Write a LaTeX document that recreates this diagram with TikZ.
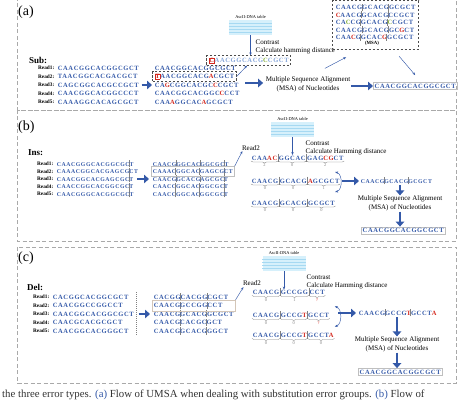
\documentclass[tikz,border=0pt]{standalone}
\usepackage{fontspec}
\setmainfont{Liberation Serif}
\newfontfamily\seqfont[LetterSpace=10]{Liberation Serif}
\usepackage{xcolor}
\usetikzlibrary{positioning,arrows.meta,fit,calc,decorations.pathreplacing}
\definecolor{dnablue}{HTML}{3459A8}
\definecolor{lightdna}{HTML}{86A6DA}
\definecolor{errred}{HTML}{D3281E}
\definecolor{okgreen}{HTML}{86B23E}
\definecolor{tabcyan}{HTML}{D6F0FB}
\definecolor{tabline}{HTML}{A6D9F2}
\definecolor{framegray}{HTML}{A9A9A9}
\newcommand{\dnared}[1]{\textcolor{errred}{#1}}
\newcommand{\dnagreen}[1]{\textcolor{okgreen}{#1}}
\newcommand{\dnabox}[1]{{\color{errred}\setlength{\fboxsep}{0.2pt}\setlength{\fboxrule}{0.4pt}\fbox{#1}}}
\newcommand{\dnatick}{\rlap{\kern-0.6pt\textcolor{gray}{\vrule height 5.6pt depth 1.4pt width 0.25pt}}}

\begin{document}
\begin{tikzpicture}[x=1pt,y=-1pt,
  seq/.style={font=\seqfont\bfseries\fontsize{6.5}{7}\selectfont, text=dnablue, inner sep=0.6pt, anchor=west},
  seqs/.style={seq, font=\seqfont\bfseries\fontsize{5.8}{6}\selectfont},
  rd/.style={font=\bfseries\fontsize{5.3}{6}\selectfont, anchor=east, inner sep=0.5pt},
  hd/.style={font=\bfseries\fontsize{9}{10}\selectfont, anchor=west, inner sep=0pt},
  pnl/.style={font=\fontsize{14}{15}\selectfont, anchor=west, inner sep=0pt},
  txt/.style={font=\fontsize{7}{8.5}\selectfont, align=center, inner sep=0.5pt},
  tabl/.style={fill=tabcyan, minimum width=43pt, minimum height=15pt, inner sep=0pt},
  tabt/.style={font=\fontsize{4.4}{5}\selectfont, inner sep=0.5pt},
  frm/.style={draw=framegray, dash pattern=on 4pt off 2.5pt, line width=0.6pt},
  big/.style={-{Triangle[length=5pt,width=8.5pt]}, line width=2.6pt, draw=dnablue},
  arr/.style={-{Stealth[length=3pt,width=2.4pt]}, line width=0.45pt, draw=dnablue},
  rbox/.style={draw=gray!50, line width=0.4pt, inner sep=1.5pt},
  dbox/.style={draw=gray!60!black, dash pattern=on 2.5pt off 1.5pt, line width=0.7pt, inner sep=1.2pt},
  br/.style={decorate, decoration={brace, mirror, amplitude=2pt}, draw=gray, line width=0.35pt},
  num/.style={font=\fontsize{4.4}{5}\selectfont, text=gray, inner sep=0.3pt, below=2.5pt},
  tk/.style={draw=gray, line width=0.3pt},
]
\useasboundingbox (0,0) rectangle (474,403);
\clip (0,0) rectangle (474,403);

% --- panel frames ---
\draw[frm] (17,-3) rectangle (456,110);
\draw[frm] (17,110) rectangle (456,241);
\draw[frm] (17,247) rectangle (456,383);

% --- (a) substitution ---
\node[pnl] (pa) at (18,12) {(a)};
\node[hd] (sub) at (29,60) {Sub:};
\foreach \i/\y/\s in {1/68/CAACGGCACGGCGCT,2/76.5/TAACGGCACGACGCT,3/85/CAGCGGCACGCCGCT,4/93.5/CAACGGCACGGCCCT,5/102/CAAAGGCACAGCGCT}{
  \node[rd] (ra\i) at (55,\y) {Read\i:};
  \node[seq] (sa\i) at (57,\y) {\s};
}
\node[seq] (ca1) at (154,68)   {CAACGGCACGGCGCT};
\node[seq] (ca2) at (154,76.5) {\dnabox{T}AACGGCACG\dnared{A}CGCT};
\node[seq] (ca3) at (154,85)   {CA\dnared{G}CGGCACGC\dnared{C}CGCT};
\node[seq] (ca4) at (154,93.5) {CAACGGCACGGC\dnared{C}CCT};
\node[seq] (ca5) at (154,102)  {CAA\dnared{A}GGCAC\dnared{A}GCGCT};
\node[dbox, fit=(ca2)] (ca2b) {};
\draw[big] ($(sa3.east)+(2,0)$) -- ($(ca3.west)+(-2,0)$);

\node[seq, text=lightdna] (cra) at (208,60.5) {\dnabox{C}AACGGCACG\dnagreen{C}CGCT};
\node[dbox, fit=(cra)] (crab) {};
\draw[arr] (ca2b.east) -- ($(crab.south west)!0.48!(crab.south east)$);

\node[tabl] (tba) at (250.5,27.5) {};
\foreach \k in {1,...,4} \draw[tabline, line width=0.5pt] ($(tba.north west)+(0,3*\k)$) -- ($(tba.north east)+(0,3*\k)$);
\node[tabt, above=0.6pt of tba] (tta) {AscII-DNA table};
\draw[arr] (tba.south) -- (tba.south |- crab.north);
\node[txt, anchor=west] (cta) at (255,42.5) {Contrast};
\node[txt, anchor=west] (cla) at (255,50.5) {Calculate hamming distance};

\node[seq] (m1) at (335,7.5)  {CAACG\dnatick GCACG\dnatick GCGCT};
\node[seq] (m2) at (335,15)   {\dnared{C}AACG\dnatick GCACG\dnatick CCGCT};
\node[seq] (m3) at (335,22.5) {CA\dnagreen{C}CG\dnatick GCACG\dnatick \dnagreen{C}CGCT};
\node[seq] (m4) at (335,30)   {CAACG\dnatick GCACG\dnatick GC\dnared{G}CT};
\node[seq] (m5) at (335,37.5) {CAA\dnared{C}G\dnatick GCAC\dnared{G}\dnatick GCGCT};
\node[font=\bfseries\fontsize{4.8}{5}\selectfont, inner sep=0.5pt] (msa) at (372,43.5) {(MSA)};
\node[dbox, fit=(m1)(m5)(msa), inner sep=2.5pt] (msabox) {};

\node[txt] (msaa) at (308,84.5) {Multiple Sequence Alignment\\(MSA) of Nucleotides};
\draw[big] ($(msaa.west)+(-20,-1.5)$) -- ($(msaa.west)+(-2,-1.5)$);
\node[seq, rbox] (resa) at (373,86) {CAACGGCACGGCGCT};
\draw[big] (msaa.east |- resa) -- (resa.west);
\draw[arr] ($(msaa.north east)+(-26,-8)$) -- ($(msabox.south west)+(14,8)$);
\draw[arr] ($(msabox.south east)+(-20,7)$) -- ($(resa.north)+(0,-7)$);

% --- (b) insertion ---
\node[pnl] (pb) at (18,127) {(b)};
\node[hd] (ins) at (28,153) {Ins:};
\foreach \i/\y/\s in {1/164/CAACGGGCACGGCGC\dnatick T,2/171.5/CAAACGGCACGAGCG\dnatick CT,3/179/CAACGGCACGAGCGC\dnatick T,4/186.5/CAACCGGCACGGCGC\dnatick T,5/194/CAACGGGCACGGCGC\dnatick T}{
  \node[rd] (rb\i) at (54,\y) {Read\i:};
  \node[seqs] (sb\i) at (56,\y) {\s};
}
\node[seqs] (cb1) at (152,164)   {CAACG\dnatick GGCAC\dnatick GGCGC\dnatick T};
\node[seqs] (cb2) at (152,171.5) {CAAAC\dnatick GGCAC\dnatick GAGCG\dnatick CT};
\node[seqs] (cb3) at (152,179)   {CAACG\dnatick GCACG\dnatick AGCGC\dnatick T};
\node[seqs] (cb4) at (152,186.5) {CAACC\dnatick GGCAC\dnatick GGCGC\dnatick T};
\node[seqs] (cb5) at (152,194)   {CAACC\dnatick GGCAC\dnatick GGCGC\dnatick T};
\node[rbox, fit=(cb2), inner sep=0.8pt] (cb2b) {};
\draw[big] ($(sb3.east)+(3,0)$) -- ($(cb3.west)+(-3,0)$);
\node[txt] (rdb) at (251,148) {Read2};
\draw[arr] (cb2b.north east) -- ($(rdb.south west)+(1,0)$);

\node[tabl] (tbb) at (292.5,129.5) {};
\foreach \k in {1,...,4} \draw[tabline, line width=0.5pt] ($(tbb.north west)+(0,3*\k)$) -- ($(tbb.north east)+(0,3*\k)$);
\node[tabt, above=0.6pt of tbb] (ttb) {AscII-DNA table};
\node[txt, anchor=west] (ctb) at (305,143) {Contrast};
\node[txt, anchor=west] (clb) at (305,151.5) {Calculate Hamming distance};

\node[seq] (b11) at (251,158) {CAA\dnared{AC}};
\node[seq, right=0pt of b11] (b12) {GGCAC};
\node[seq, right=0pt of b12] (b13) {GAG\dnared{CG}CT};
\node[seq] (b21) at (251,181) {CAACG};
\node[seq, right=0pt of b21] (b22) {GCACG};
\node[seq, right=0pt of b22] (b23) {\dnared{A}GCGCT};
\node[seq] (b31) at (251,203) {CAACG};
\node[seq, right=0pt of b31] (b32) {GCACG};
\node[seq, right=0pt of b32] (b33) {GCGCT};
\draw[arr] (tbb.south) -- (tbb.south |- b11.north);
\foreach \n/\v in {b11/2,b12/0,b13/2,b21/0,b22/0,b23/1,b31/0,b32/0,b33/0}{
  \draw[br] (\n.south west) -- (\n.south east) node[num, midway] {\v};
}
\foreach \n in {b11,b12,b21,b22,b31,b32} \draw[tk] ($(\n.north east)+(0,-1.5)$) -- ($(\n.south east)+(0,1)$);
\draw[arr, {Stealth[length=3pt,width=2.4pt]}-{Stealth[length=3pt,width=2.4pt]}] ($(b23.east)+(-5,-9)$) to[bend left=75] ($(b23.east)+(-5,11)$);

\node[seqs] (bm) at (360,181) {CAACG\dnatick GCACG\dnatick GCGCT};
\draw[big] ($(bm.west)+(-18,0)$) -- ($(bm.west)+(-1,0)$);
\node[txt] (msab) at (400,203.5) {Multiple Sequence Alignment\\(MSA) of Nucleotides};
\draw[big] (bm.south -| msab) -- (msab.north);
\node[seq, rbox] (resb) at (361,230.5) {CAACGGCACGGCGCT};
\draw[big] (msab.south) -- (msab.south |- resb.north);

% --- (c) deletion ---
\node[pnl] (pc) at (18,258) {(c)};
\node[hd] (del) at (27,287) {Del:};
\foreach \i/\y/\s in {1/297/CACGGCACGGCGCT,2/305.5/CAACGGCCGGCCT,3/314/CAACGGCACGGCGCT,4/322.5/CAACGCACGCGCT,5/331/CAACGGCACGGGCT}{
  \node[rd] (rc\i) at (50,\y) {Read\i:};
  \node[seq] (sc\i) at (52,\y) {\s};
}
\draw[gray, dash pattern=on 1pt off 1pt, line width=0.4pt] ($(sc1.north -| sc3.east)+(2,-2)$) -- ($(sc5.south -| sc3.east)+(2,2)$);
\node[seq] (cc1) at (153,297)   {CACGG\dnatick CACGG\dnatick CGCT};
\node[seq] (cc2) at (153,305.5) {CAACG\dnatick GCCGG\dnatick CCT};
\node[seq] (cc3) at (153,314)   {CAACG\dnatick GCACG\dnatick GCGCT};
\node[seq] (cc4) at (153,322.5) {CAACG\dnatick CACGC\dnatick GCT};
\node[seq] (cc5) at (153,331)   {CAACG\dnatick GCACG\dnatick GGCT};
\node[rbox, draw=orange!25!gray!45, fit=(cc2)(cc2 -| cc3.east), inner sep=1pt] (cc2b) {};
\draw[big] ($(sc3.east)+(4,0)$) -- ($(cc3.west)+(-3,0)$);
\node[txt] (rdc) at (252,283) {Read2};
\draw[arr] (cc2b.north east) -- ($(rdc.south west)+(1,1)$);

\node[tabl] (tbc) at (284,263.5) {};
\foreach \k in {1,...,4} \draw[tabline, line width=0.5pt] ($(tbc.north west)+(0,3*\k)$) -- ($(tbc.north east)+(0,3*\k)$);
\node[tabt, above=0.6pt of tbc] (ttc) {AscII-DNA table};
\node[txt, anchor=west] (ctc) at (306,277) {Contrast};
\node[txt, anchor=west] (clc) at (306,285.5) {Calculate Hamming distance};

\node[seq] (c11) at (252,292.5) {CAACG};
\node[seq, right=0pt of c11] (c12) {GCCGG};
\node[seq, right=0pt of c12] (c13) {CCT};
\node[seq] (c21) at (252,315.5) {CAACG};
\node[seq, right=0pt of c21] (c22) {GCCG\dnared{T}};
\node[seq, right=0pt of c22] (c23) {GCCT};
\node[seq] (c31) at (252,335.5) {CAACG};
\node[seq, right=0pt of c31] (c32) {GCCG\dnared{T}};
\node[seq, right=0pt of c32] (c33) {GCCT\dnared{A}};
\draw[arr] (tbc.south) -- (tbc.south |- c11.north);
\foreach \n/\v in {c11/0,c12/1,c13/\dnared{?},c21/0,c22/0,c23/\dnared{?},c31/0,c32/0,c33/0}{
  \draw[br] (\n.south west) -- (\n.south east) node[num, midway] {\v};
}
\foreach \n in {c11,c12,c21,c22,c31,c32} \draw[tk] ($(\n.north east)+(0,-1.5)$) -- ($(\n.south east)+(0,1)$);
\draw[arr, {Stealth[length=3pt,width=2.4pt]}-{Stealth[length=3pt,width=2.4pt]}] ($(c23.east)+(5,-9)$) to[bend left=75] ($(c23.east)+(5,11)$);

\node[seq] (cm) at (358,313) {CAACG\dnatick GCCG\dnared{T}\dnatick GCCT\dnared{A}};
\draw[big] ($(cm.west)+(-20,0)$) -- ($(cm.west)+(-2,0)$);
\node[txt] (msac) at (397,344.5) {Multiple Sequence Alignment\\(MSA) of Nucleotides};
\draw[big] (cm.south -| msac) -- (msac.north);
\node[seq, rbox] (resc) at (358,372) {CAACGGCACGGCGCT};
\draw[big] (msac.south) -- (msac.south |- resc.north);

% --- caption line ---
\node[anchor=west, font=\fontsize{10.8}{12}\selectfont, text=black!80, inner sep=0pt] (cap) at (2,395)
  {the three error types. \textcolor{dnablue}{(a)} Flow of UMSA when dealing with substitution error groups. \textcolor{dnablue}{(b)} Flow of};
\end{tikzpicture}
\end{document}
